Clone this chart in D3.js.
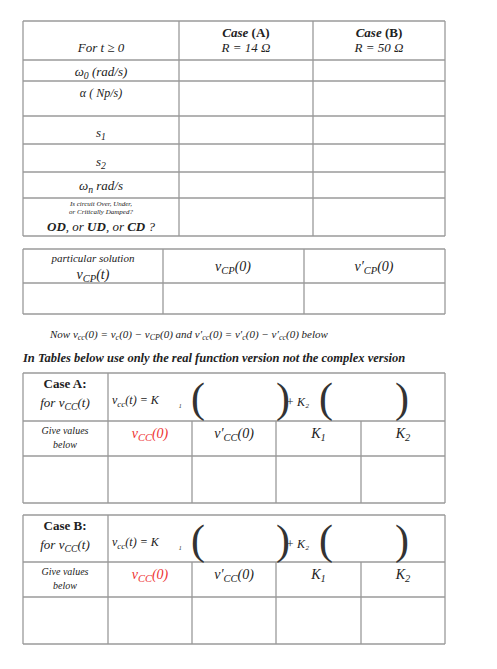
<!DOCTYPE html>
<html><head><meta charset="utf-8">
<script src="https://cdn.jsdelivr.net/npm/d3@7"></script>
<style>body{margin:0;background:#fff}text{font-family:"Liberation Serif",serif}</style>
</head><body>
<script>
// table contents
var caseHeaders = [["Case (A)", "R = 14 Ω"], ["Case (B)", "R = 50 Ω"]];
var paramRows = ["ω₀ (rad/s)", "α ( Np/s)", "s₁", "s₂", "ωₙ rad/s", "damping"];
var partHeaders = ["particular solution", "v_CP(0)", "v'_CP(0)"];
var ccHeaders = ["v_CC(0)", "v′_CC(0)", "K₁", "K₂"];
var caseNames = ["Case A:", "Case B:"];

var svg = d3.select("body").append("svg").attr("width", 497).attr("height", 669);
var line = "#9a9a9a";

function grid(segs) {
  svg.append("g").selectAll("line").data(segs).enter().append("line")
    .attr("x1", d => d[0]).attr("y1", d => d[1]).attr("x2", d => d[2]).attr("y2", d => d[3])
    .attr("stroke", line).attr("stroke-width", 1.3);
}
function txt(x, y, s, o) {
  o = o || {};
  var t = svg.append("text").attr("x", x).attr("y", y).attr("text-anchor", o.anchor || "middle")
    .attr("font-size", o.size || 13).attr("font-style", o.italic === false ? "normal" : "italic")
    .attr("font-weight", o.bold ? "bold" : "normal").attr("fill", o.fill || "#222");
  if (s) t.text(s);
  return t;
}
function sub(x, y, base, s, rest, o) {
  var t = txt(x, y, "", o);
  t.append("tspan").text(base);
  t.append("tspan").attr("font-size", (o && o.size || 13) * 0.75).attr("dy", 3).text(s);
  if (rest) t.append("tspan").attr("dy", -3).text(rest);
  return t;
}

// ---- table 1
var cols1 = [23, 179, 313, 445];
var rows1 = [21, 60, 81, 116, 144, 172, 198, 236];
var segs = [];
rows1.forEach(y => segs.push([23, y, 445, y]));
cols1.forEach(x => segs.push([x, 21, x, 236]));
grid(segs);
txt(101, 52, "For t ≥ 0", {size: 13});
caseHeaders.forEach((h, i) => {
  var cx = (cols1[i + 1] + cols1[i + 2]) / 2;
  var t = txt(cx, 37, "", {size: 13});
  t.append("tspan").attr("font-weight", "bold").text("Case ");
  t.append("tspan").attr("font-weight", "bold").attr("font-style", "normal").text(h[0].slice(5));
  txt(cx, 52, h[1], {size: 13});
});
sub(101, 76, "ω", "0", " (rad/s)", {size: 13});
txt(101, 97, paramRows[1], {size: 12});
sub(101, 137, "s", "1", "", {size: 13});
sub(101, 166, "s", "2", "", {size: 13});
sub(101, 190, "ω", "n", "  rad/s", {size: 13});
txt(101, 206, "Is circuit Over, Under,", {size: 7});
txt(101, 214, "or Critically Damped?", {size: 7});
var od = txt(101, 231, "", {size: 13});
[["OD", 1], [", or ", 0], [" UD", 1], [", or ", 0], ["CD", 1], [" ?", 0]].forEach(p =>
  od.append("tspan").attr("font-weight", p[1] ? "bold" : "normal").text(p[0]));

// ---- table 2
var cols2 = [23, 163, 304, 445], rows2 = [249, 283, 314];
segs = [];
rows2.forEach(y => segs.push([23, y, 445, y]));
cols2.forEach(x => segs.push([x, 249, x, 314]));
grid(segs);
txt(93, 262, partHeaders[0], {size: 11});
sub(93, 279, "v", "CP", "(t)", {size: 14});
sub(233, 271, "v", "CP", "(0)", {size: 14});
sub(374, 271, "v′", "CP", "(0)", {size: 14});

var n = txt(50, 338, "", {size: 11, anchor: "start"});
var low = false;
[["Now  v", 0], ["cc", 1], ["(0) = v", 0], ["c", 1], ["(0) − v", 0], ["CP", 1], ["(0) and v′", 0], ["cc", 1],
 ["(0) = v′", 0], ["c", 1], ["(0) − v′", 0], ["cc", 1], ["(0) below", 0]].forEach(p => {
  var s = n.append("tspan").text(p[0]);
  if (p[1]) { s.attr("font-size", 8).attr("dy", 2); low = true; }
  else if (low) { s.attr("dy", -2); low = false; }
});
txt(23, 362, "In Tables below use only the real function version not the complex version",
  {size: 12.5, anchor: "start", bold: true});

// ---- case tables
var colsC = [23, 108, 192, 276, 361, 445];
[[373, 421, 456, 503], [515, 562, 597, 644]].forEach((r, k) => {
  var s = [];
  r.forEach(y => s.push([23, y, 445, y]));
  s.push([23, r[0], 23, r[3]], [108, r[0], 108, r[3]], [445, r[0], 445, r[3]]);
  [192, 276, 361].forEach(x => s.push([x, r[1], x, r[3]]));
  grid(s);
  txt(65, r[0] + 15, caseNames[k], {size: 13, bold: true, italic: false});
  sub(65, r[0] + 34, "for v", "CC", "(t)", {size: 13});
  sub(112, r[0] + 31, "v", "cc", "(t) = K", {size: 12, anchor: "start"});
  txt(180, r[0] + 33, "₁", {size: 10});
  txt(286, r[0] + 33, "+ K₂", {size: 12, anchor: "start"});
  [[198, "("], [283, ")"], [326, "("], [402, ")"]].forEach(p =>
    txt(p[0], r[0] + 39, p[1], {size: 42, italic: false, fill: "#333"}).attr("font-weight", "100"));
  txt(65, r[1] + 13, "Give values", {size: 10});
  txt(65, r[1] + 27, "below", {size: 10});
  ccHeaders.forEach((h, i) => {
    var cx = (colsC[i + 1] + colsC[i + 2]) / 2, y = r[1] + 17;
    var p = h.split("_");
    if (p.length > 1) sub(cx, y, p[0], p[1].slice(0, 2), p[1].slice(2), {size: 14, fill: i === 0 ? "#e33" : "#222"});
    else sub(cx, y, h[0], h[1] === "₁" ? "1" : "2", "", {size: 14});
  });
});
</script>
</body></html>
